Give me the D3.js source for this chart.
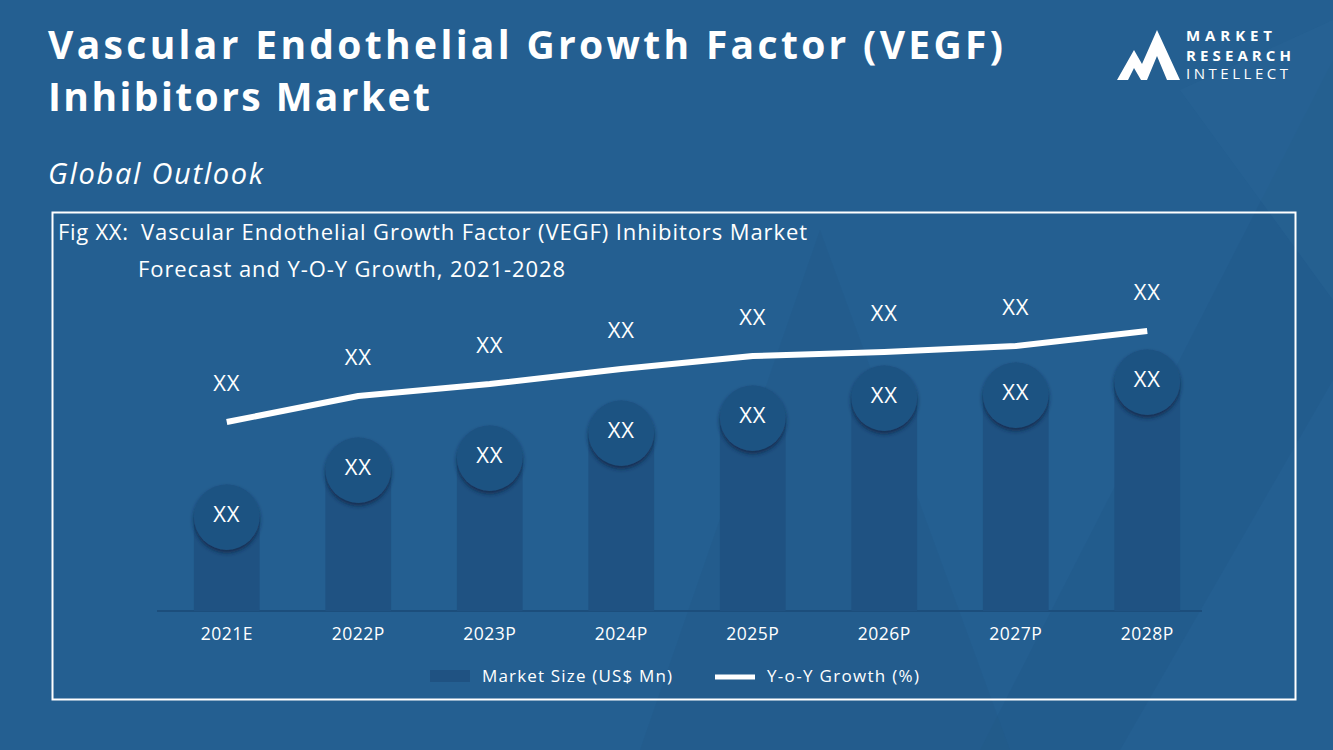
<!DOCTYPE html>
<html><head><meta charset="utf-8">
<script src="https://cdn.jsdelivr.net/npm/d3@7"></script>
<style>
html,body{margin:0;padding:0;background:#245f91;}
svg{display:block;}
text{font-family:"Open Sans",Lato,sans-serif;}
</style></head>
<body>
<svg id="chart" width="1333" height="750"></svg>
<script>
const categories = ["2021E","2022P","2023P","2024P","2025P","2026P","2027P","2028P"];
const marketSize = [94, 141, 153, 178, 193, 213, 216, 229];
const yoyGrowth = [189, 215, 227, 242, 255, 259, 265, 280];
const barLabels = ["XX","XX","XX","XX","XX","XX","XX","XX"];
const lineLabels = ["XX","XX","XX","XX","XX","XX","XX","XX"];
const legendItems = ["Market Size (US$ Mn)","Y-o-Y Growth (%)"];

const svg = d3.select("#chart");
const W = 1333, H = 750;
const bg = "#245f91", barCol = "#1f5282", white = "#ffffff";
const FONT = "'Open Sans',Lato,sans-serif";

svg.append("rect").attr("width",W).attr("height",H).attr("fill",bg);

const defs = svg.append("defs");
const f = defs.append("filter").attr("id","shadow").attr("x","-30%").attr("y","-30%").attr("width","160%").attr("height","170%");
f.append("feDropShadow").attr("dx",0).attr("dy",3).attr("stdDeviation",2).attr("flood-color","#0a2440").attr("flood-opacity",0.75);

svg.append("polygon").attr("points","1333,0 1333,380 1120,750 980,750 1333,60").attr("fill","#22598a").attr("opacity",0.45);
svg.append("polygon").attr("points","820,230 640,750 1010,750").attr("fill","#215888").attr("opacity",0.35);
svg.append("polygon").attr("points","1180,90 1333,20 1333,300").attr("fill","#2a6899").attr("opacity",0.35);

function txt(x,y,s,size,len,opts={}){
  const t = svg.append("text").attr("x",x).attr("y",y).attr("fill",white).attr("font-size",size).text(s);
  if(len) t.attr("textLength",len).attr("lengthAdjust","spacing");
  if(opts.weight) t.attr("font-weight",opts.weight);
  if(opts.italic) t.attr("font-style","italic");
  return t;
}

// Title
txt(48,59,"Vascular Endothelial Growth Factor (VEGF)",39,955,{weight:700});
txt(48,111,"Inhibitors Market",39,382,{weight:700});
txt(48,184,"Global Outlook",29,215,{italic:true,weight:400});

// Logo
const logo = svg.append("g");
logo.append("path").attr("d","M1117,80 L1134,50 L1142,64 L1157,30 L1180,80 L1167,80 L1157,56 L1147,80 L1141,80 L1134,68 L1128,80 Z").attr("fill",white);
txt(1186,41,"MARKET",15,86,{weight:700});
txt(1186,61,"RESEARCH",15,105,{weight:700});
txt(1186,79,"INTELLECT",15,102,{weight:400});

// Frame
svg.append("rect").attr("x",52.5).attr("y",212.5).attr("width",1243).attr("height",487)
  .attr("fill","none").attr("stroke",white).attr("stroke-width",2);

txt(58,240,"Fig XX:",22,70);
txt(141,240,"Vascular Endothelial Growth Factor (VEGF) Inhibitors Market",22,666);
txt(138,277,"Forecast and Y-O-Y Growth, 2021-2028",22,427);

// Scales
const x = d3.scaleBand().domain(categories).range([161,1213]).paddingInner(0.5).paddingOuter(0.25);
const yBar = d3.scaleLinear().domain([0,300]).range([611,311]);
const yLine = d3.scaleLinear().domain([0,300]).range([611,311]);

const xAxis = d3.axisBottom(x).tickSize(0).tickPadding(17);
const ax = svg.append("g").attr("transform","translate(0,611)").call(xAxis);
ax.select(".domain").attr("stroke","#1c4e7c").attr("stroke-width",2).attr("d","M157,0H1202");
ax.selectAll("text").attr("fill",white).attr("font-size",17.5).attr("font-family",FONT).style("letter-spacing","0.5px");

const bw = x.bandwidth();
svg.append("g").selectAll("rect").data(categories).join("rect")
  .attr("x",d=>x(d)).attr("width",bw)
  .attr("y",(d,i)=>yBar(marketSize[i])).attr("height",(d,i)=>611-yBar(marketSize[i]))
  .attr("fill",barCol);

svg.append("g").selectAll("circle").data(categories).join("circle")
  .attr("cx",d=>x(d)+bw/2).attr("cy",(d,i)=>yBar(marketSize[i]))
  .attr("r",bw/2).attr("fill",barCol).attr("filter","url(#shadow)");

svg.append("g").selectAll("text").data(categories).join("text")
  .attr("x",d=>x(d)+bw/2).attr("y",(d,i)=>yBar(marketSize[i])-1)
  .attr("text-anchor","middle").attr("dominant-baseline","middle")
  .attr("fill",white).attr("font-size",22).style("letter-spacing","0.8px").text((d,i)=>barLabels[i]);

const line = d3.line().x(d=>x(d.c)+bw/2).y(d=>yLine(d.v));
const lineData = categories.map((c,i)=>({c,v:yoyGrowth[i]}));
svg.append("path").datum(lineData).attr("d",line).attr("fill","none")
  .attr("stroke",white).attr("stroke-width",6).attr("stroke-linejoin","round");

svg.append("g").selectAll("text").data(lineData).join("text")
  .attr("x",d=>x(d.c)+bw/2).attr("y",d=>yLine(d.v)-37)
  .attr("text-anchor","middle").attr("dominant-baseline","middle")
  .attr("fill",white).attr("font-size",22).style("letter-spacing","0.8px").text((d,i)=>lineLabels[i]);

svg.append("rect").attr("x",430).attr("y",670).attr("width",40).attr("height",12).attr("fill",barCol);
txt(482,682,legendItems[0],17,190);
svg.append("line").attr("x1",715).attr("x2",755).attr("y1",677).attr("y2",677).attr("stroke",white).attr("stroke-width",5);
txt(767,682,legendItems[1],17,152);
</script>
</body></html>
